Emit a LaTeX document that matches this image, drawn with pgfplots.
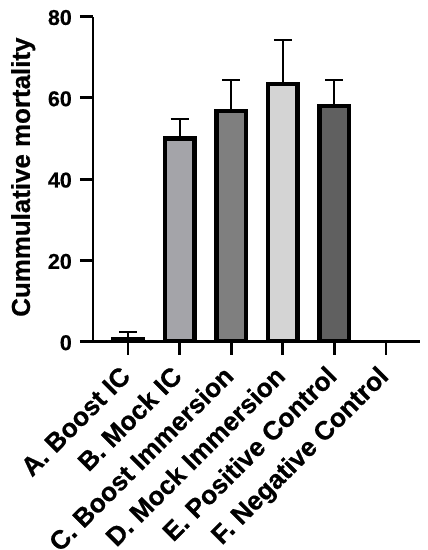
\documentclass[border=0pt]{standalone}
\usepackage{fontspec}
\setmainfont{Liberation Sans}[BoldFeatures={FakeBold=0.6}]
\usepackage{pgfplots}
\pgfplotsset{compat=1.18}

\definecolor{barB}{HTML}{A4A4A9}
\definecolor{barC}{HTML}{7F7F7F}
\definecolor{barD}{HTML}{D4D4D4}
\definecolor{barE}{HTML}{606060}

\pgfplotsset{
    gpbar/.style={ybar, bar shift=0pt, bar width=29.5bp,
        draw=black, line width=4.5bp, fill=#1,
        error bars/.cd, y dir=plus, y explicit,
        error bar style={line width=2bp, black},
        error mark options={rotate=90, mark size=9bp, line width=2bp, black}},
}

\begin{document}
\begin{tikzpicture}
\useasboundingbox (-93bp,-208.3bp) rectangle (335bp,341.7bp);
\begin{axis}[
    at={(0,0)}, anchor=south west,
    scale only axis,
    width=327bp, height=325.2bp,
    xmin=-0.678, xmax=5.66,
    ymin=0, ymax=80,
    axis x line*=bottom, axis y line*=left,
    axis line style={line width=2.8bp, -},
    axis on top,
    tick align=outside,
    major tick length=13bp,
    tick style={line width=2.8bp, black},
    /pgf/number format/assume math mode=true,
    xtick={0,1,2,3,4,5},
    xticklabels={A. Boost IC, B. Mock IC, C. Boost Immersion, D. Mock Immersion, E. Positive Control, F. Negative Control},
    ytick={0,20,40,60,80},
    xticklabel style={xshift=4bp, yshift=-23bp, rotate=45, anchor=base east,
        inner sep=0pt, font=\bfseries\fontsize{26.3}{29}\selectfont},
    yticklabel style={inner sep=0pt, xshift=-8bp, yshift=-1bp,
        font=\bfseries\fontsize{21.5}{24}\selectfont},
    ylabel={Cummulative mortality},
    ylabel style={at={(axis description cs:-0.251,0.506)}, anchor=north,
        rotate=0, inner sep=0pt, font=\bfseries\fontsize{26}{30}\selectfont},
]
\addplot[gpbar=black] coordinates {(0,0.6) +- (0,1.9)};
\addplot[gpbar=barB] coordinates {(1,50.0) +- (0,4.7)};
\addplot[gpbar=barC] coordinates {(2,56.7) +- (0,7.8)};
\addplot[gpbar=barD] coordinates {(3,63.4) +- (0,10.7)};
\addplot[gpbar=barE] coordinates {(4,58.0) +- (0,6.5)};
\end{axis}
\end{tikzpicture}
\end{document}
